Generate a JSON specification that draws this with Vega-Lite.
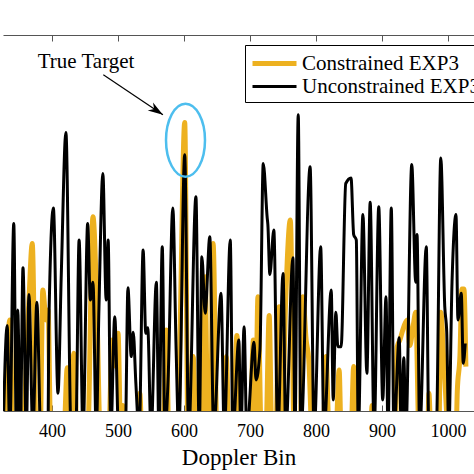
{
  "$schema": "https://vega.github.io/schema/vega-lite/v6.json",
  "width": 471,
  "height": 376,
  "autosize": {"type": "none"},
  "padding": {"left": 3, "top": 35, "right": 0, "bottom": 63},
  "background": "white",
  "config": {
    "view": {"stroke": null},
    "axis": {
      "grid": false,
      "domainColor": "#555555",
      "tickColor": "#555555",
      "domainWidth": 1,
      "tickWidth": 1,
      "labelFont": "Liberation Serif",
      "labelFontSize": 18,
      "labelColor": "#000000",
      "titleFont": "Liberation Serif",
      "titleFontSize": 23,
      "titleFontWeight": "normal",
      "titleColor": "#000000"
    }
  },
  "datasets": {
    "spectrum": [
      {"bin": 326, "v": -2, "series": "Unconstrained EXP3"},
      {"bin": 332, "v": 7.7, "series": "Unconstrained EXP3"},
      {"bin": 336, "v": -2, "series": "Unconstrained EXP3"},
      {"bin": 342, "v": 16.9, "series": "Unconstrained EXP3"},
      {"bin": 346, "v": -2, "series": "Unconstrained EXP3"},
      {"bin": 348, "v": 9.1, "series": "Unconstrained EXP3"},
      {"bin": 352, "v": -2, "series": "Unconstrained EXP3"},
      {"bin": 356, "v": 12.9, "series": "Unconstrained EXP3"},
      {"bin": 361, "v": -2, "series": "Unconstrained EXP3"},
      {"bin": 365, "v": 10.5, "series": "Unconstrained EXP3"},
      {"bin": 371, "v": -2, "series": "Unconstrained EXP3"},
      {"bin": 377, "v": 9.8, "series": "Unconstrained EXP3"},
      {"bin": 383, "v": -2, "series": "Unconstrained EXP3"},
      {"bin": 394, "v": -2, "series": "Unconstrained EXP3"},
      {"bin": 395, "v": 7.3, "series": "Unconstrained EXP3"},
      {"bin": 402, "v": 18.3, "series": "Unconstrained EXP3"},
      {"bin": 409, "v": 1.6, "series": "Unconstrained EXP3"},
      {"bin": 414, "v": 12.3, "series": "Unconstrained EXP3"},
      {"bin": 421, "v": 25.1, "series": "Unconstrained EXP3"},
      {"bin": 429, "v": -2, "series": "Unconstrained EXP3"},
      {"bin": 436, "v": -2, "series": "Unconstrained EXP3"},
      {"bin": 441, "v": 15.4, "series": "Unconstrained EXP3"},
      {"bin": 447, "v": -2, "series": "Unconstrained EXP3"},
      {"bin": 454, "v": 16.9, "series": "Unconstrained EXP3"},
      {"bin": 458, "v": 10.0, "series": "Unconstrained EXP3"},
      {"bin": 462, "v": 11.6, "series": "Unconstrained EXP3"},
      {"bin": 467, "v": -2, "series": "Unconstrained EXP3"},
      {"bin": 471, "v": 9.1, "series": "Unconstrained EXP3"},
      {"bin": 477, "v": 21.4, "series": "Unconstrained EXP3"},
      {"bin": 482, "v": 10.0, "series": "Unconstrained EXP3"},
      {"bin": 485, "v": 15.4, "series": "Unconstrained EXP3"},
      {"bin": 489, "v": -2, "series": "Unconstrained EXP3"},
      {"bin": 495, "v": 8.5, "series": "Unconstrained EXP3"},
      {"bin": 501, "v": -2, "series": "Unconstrained EXP3"},
      {"bin": 511, "v": -2, "series": "Unconstrained EXP3"},
      {"bin": 515, "v": 11.1, "series": "Unconstrained EXP3"},
      {"bin": 520, "v": 4.9, "series": "Unconstrained EXP3"},
      {"bin": 523, "v": 7.1, "series": "Unconstrained EXP3"},
      {"bin": 527, "v": 2.5, "series": "Unconstrained EXP3"},
      {"bin": 532, "v": -2, "series": "Unconstrained EXP3"},
      {"bin": 538, "v": 14.5, "series": "Unconstrained EXP3"},
      {"bin": 542, "v": 7.0, "series": "Unconstrained EXP3"},
      {"bin": 545, "v": 7.5, "series": "Unconstrained EXP3"},
      {"bin": 550, "v": -2, "series": "Unconstrained EXP3"},
      {"bin": 558, "v": 11.6, "series": "Unconstrained EXP3"},
      {"bin": 562, "v": -2, "series": "Unconstrained EXP3"},
      {"bin": 567, "v": 14.8, "series": "Unconstrained EXP3"},
      {"bin": 571, "v": -2, "series": "Unconstrained EXP3"},
      {"bin": 576, "v": 3.1, "series": "Unconstrained EXP3"},
      {"bin": 583, "v": 18.3, "series": "Unconstrained EXP3"},
      {"bin": 588, "v": 5.5, "series": "Unconstrained EXP3"},
      {"bin": 592, "v": -2, "series": "Unconstrained EXP3"},
      {"bin": 601, "v": 23.1, "series": "Unconstrained EXP3"},
      {"bin": 607, "v": -2, "series": "Unconstrained EXP3"},
      {"bin": 618, "v": 19.3, "series": "Unconstrained EXP3"},
      {"bin": 623, "v": -2, "series": "Unconstrained EXP3"},
      {"bin": 627, "v": 13.9, "series": "Unconstrained EXP3"},
      {"bin": 632, "v": 8.8, "series": "Unconstrained EXP3"},
      {"bin": 639, "v": 15.7, "series": "Unconstrained EXP3"},
      {"bin": 645, "v": -2, "series": "Unconstrained EXP3"},
      {"bin": 656, "v": 10.6, "series": "Unconstrained EXP3"},
      {"bin": 661, "v": -2, "series": "Unconstrained EXP3"},
      {"bin": 670, "v": 15.4, "series": "Unconstrained EXP3"},
      {"bin": 674, "v": -2, "series": "Unconstrained EXP3"},
      {"bin": 683, "v": 6.4, "series": "Unconstrained EXP3"},
      {"bin": 686, "v": -2, "series": "Unconstrained EXP3"},
      {"bin": 691, "v": 7.6, "series": "Unconstrained EXP3"},
      {"bin": 695, "v": -2, "series": "Unconstrained EXP3"},
      {"bin": 706, "v": 6.2, "series": "Unconstrained EXP3"},
      {"bin": 709, "v": 2.8, "series": "Unconstrained EXP3"},
      {"bin": 715, "v": 5.5, "series": "Unconstrained EXP3"},
      {"bin": 720, "v": 22.3, "series": "Unconstrained EXP3"},
      {"bin": 726, "v": 17.4, "series": "Unconstrained EXP3"},
      {"bin": 727, "v": 16.8, "series": "Unconstrained EXP3"},
      {"bin": 730, "v": 12.3, "series": "Unconstrained EXP3"},
      {"bin": 736, "v": 16.3, "series": "Unconstrained EXP3"},
      {"bin": 742, "v": -2, "series": "Unconstrained EXP3"},
      {"bin": 750, "v": 12.4, "series": "Unconstrained EXP3"},
      {"bin": 754, "v": -2, "series": "Unconstrained EXP3"},
      {"bin": 765, "v": 13.8, "series": "Unconstrained EXP3"},
      {"bin": 768, "v": -2, "series": "Unconstrained EXP3"},
      {"bin": 773, "v": 26.7, "series": "Unconstrained EXP3"},
      {"bin": 777, "v": -2, "series": "Unconstrained EXP3"},
      {"bin": 791, "v": 22.0, "series": "Unconstrained EXP3"},
      {"bin": 797, "v": -2, "series": "Unconstrained EXP3"},
      {"bin": 807, "v": 14.8, "series": "Unconstrained EXP3"},
      {"bin": 812, "v": -2, "series": "Unconstrained EXP3"},
      {"bin": 823, "v": 10.9, "series": "Unconstrained EXP3"},
      {"bin": 826, "v": 1.0, "series": "Unconstrained EXP3"},
      {"bin": 830, "v": 8.9, "series": "Unconstrained EXP3"},
      {"bin": 833, "v": 5.8, "series": "Unconstrained EXP3"},
      {"bin": 838, "v": 5.8, "series": "Unconstrained EXP3"},
      {"bin": 845, "v": 20.5, "series": "Unconstrained EXP3"},
      {"bin": 853, "v": 21.0, "series": "Unconstrained EXP3"},
      {"bin": 857, "v": 15.9, "series": "Unconstrained EXP3"},
      {"bin": 861, "v": 15.4, "series": "Unconstrained EXP3"},
      {"bin": 864, "v": -2, "series": "Unconstrained EXP3"},
      {"bin": 871, "v": 17.7, "series": "Unconstrained EXP3"},
      {"bin": 877, "v": 3.4, "series": "Unconstrained EXP3"},
      {"bin": 882, "v": 18.8, "series": "Unconstrained EXP3"},
      {"bin": 888, "v": -2, "series": "Unconstrained EXP3"},
      {"bin": 895, "v": 18.4, "series": "Unconstrained EXP3"},
      {"bin": 901, "v": 1.0, "series": "Unconstrained EXP3"},
      {"bin": 906, "v": 10.3, "series": "Unconstrained EXP3"},
      {"bin": 909, "v": -2, "series": "Unconstrained EXP3"},
      {"bin": 914, "v": 18.3, "series": "Unconstrained EXP3"},
      {"bin": 918, "v": -2, "series": "Unconstrained EXP3"},
      {"bin": 926, "v": 6.6, "series": "Unconstrained EXP3"},
      {"bin": 929, "v": -2, "series": "Unconstrained EXP3"},
      {"bin": 933, "v": 4.8, "series": "Unconstrained EXP3"},
      {"bin": 936, "v": -2, "series": "Unconstrained EXP3"},
      {"bin": 945, "v": 22.2, "series": "Unconstrained EXP3"},
      {"bin": 951, "v": 11.6, "series": "Unconstrained EXP3"},
      {"bin": 953, "v": 15.9, "series": "Unconstrained EXP3"},
      {"bin": 957, "v": -2, "series": "Unconstrained EXP3"},
      {"bin": 967, "v": 14.8, "series": "Unconstrained EXP3"},
      {"bin": 971, "v": -2, "series": "Unconstrained EXP3"},
      {"bin": 982, "v": -2, "series": "Unconstrained EXP3"},
      {"bin": 989, "v": 22.8, "series": "Unconstrained EXP3"},
      {"bin": 995, "v": 9.4, "series": "Unconstrained EXP3"},
      {"bin": 998, "v": 7.1, "series": "Unconstrained EXP3"},
      {"bin": 1001, "v": -2, "series": "Unconstrained EXP3"},
      {"bin": 1006, "v": 11.6, "series": "Unconstrained EXP3"},
      {"bin": 1012, "v": 17.7, "series": "Unconstrained EXP3"},
      {"bin": 1015, "v": 8.2, "series": "Unconstrained EXP3"},
      {"bin": 1020, "v": 10.6, "series": "Unconstrained EXP3"},
      {"bin": 1023, "v": 4.3, "series": "Unconstrained EXP3"},
      {"bin": 1026, "v": 6.1, "series": "Unconstrained EXP3"},

      {"bin": 329, "v": -2, "series": "Constrained EXP3"},
      {"bin": 336, "v": 8.2, "series": "Constrained EXP3"},
      {"bin": 341, "v": -2, "series": "Constrained EXP3"},
      {"bin": 355, "v": -2, "series": "Constrained EXP3"},
      {"bin": 365, "v": 10.0, "series": "Constrained EXP3"},
      {"bin": 370, "v": 15.1, "series": "Constrained EXP3"},
      {"bin": 376, "v": -2, "series": "Constrained EXP3"},
      {"bin": 382, "v": -2, "series": "Constrained EXP3"},
      {"bin": 386, "v": 10.9, "series": "Constrained EXP3"},
      {"bin": 391, "v": 8.2, "series": "Constrained EXP3"},
      {"bin": 394, "v": 9.1, "series": "Constrained EXP3"},
      {"bin": 398, "v": -2, "series": "Constrained EXP3"},
      {"bin": 418, "v": -2, "series": "Constrained EXP3"},
      {"bin": 423, "v": 3.9, "series": "Constrained EXP3"},
      {"bin": 427, "v": -2, "series": "Constrained EXP3"},
      {"bin": 433, "v": 5.2, "series": "Constrained EXP3"},
      {"bin": 438, "v": -2, "series": "Constrained EXP3"},
      {"bin": 454, "v": -2, "series": "Constrained EXP3"},
      {"bin": 462, "v": 17.5, "series": "Constrained EXP3"},
      {"bin": 468, "v": 9.1, "series": "Constrained EXP3"},
      {"bin": 473, "v": -2, "series": "Constrained EXP3"},
      {"bin": 486, "v": -2, "series": "Constrained EXP3"},
      {"bin": 491, "v": 6.4, "series": "Constrained EXP3"},
      {"bin": 497, "v": 4.0, "series": "Constrained EXP3"},
      {"bin": 500, "v": 7.0, "series": "Constrained EXP3"},
      {"bin": 504, "v": -2, "series": "Constrained EXP3"},
      {"bin": 507, "v": 0.5, "series": "Constrained EXP3"},
      {"bin": 510, "v": -2, "series": "Constrained EXP3"},
      {"bin": 530, "v": -2, "series": "Constrained EXP3"},
      {"bin": 533, "v": 1.6, "series": "Constrained EXP3"},
      {"bin": 536, "v": -2, "series": "Constrained EXP3"},
      {"bin": 568, "v": -2, "series": "Constrained EXP3"},
      {"bin": 573, "v": 7.3, "series": "Constrained EXP3"},
      {"bin": 577, "v": -2, "series": "Constrained EXP3"},
      {"bin": 590, "v": -2, "series": "Constrained EXP3"},
      {"bin": 594, "v": 7.3, "series": "Constrained EXP3"},
      {"bin": 601, "v": 26.0, "series": "Constrained EXP3"},
      {"bin": 606, "v": -2, "series": "Constrained EXP3"},
      {"bin": 614, "v": 4.9, "series": "Constrained EXP3"},
      {"bin": 618, "v": -2, "series": "Constrained EXP3"},
      {"bin": 627, "v": -2, "series": "Constrained EXP3"},
      {"bin": 632, "v": 12.1, "series": "Constrained EXP3"},
      {"bin": 636, "v": -2, "series": "Constrained EXP3"},
      {"bin": 640, "v": -2, "series": "Constrained EXP3"},
      {"bin": 644, "v": 15.1, "series": "Constrained EXP3"},
      {"bin": 650, "v": -2, "series": "Constrained EXP3"},
      {"bin": 660, "v": -2, "series": "Constrained EXP3"},
      {"bin": 664, "v": 4.9, "series": "Constrained EXP3"},
      {"bin": 668, "v": -2, "series": "Constrained EXP3"},
      {"bin": 675, "v": -2, "series": "Constrained EXP3"},
      {"bin": 680, "v": 6.8, "series": "Constrained EXP3"},
      {"bin": 686, "v": -2, "series": "Constrained EXP3"},
      {"bin": 700, "v": -2, "series": "Constrained EXP3"},
      {"bin": 705, "v": 6.4, "series": "Constrained EXP3"},
      {"bin": 708, "v": -2, "series": "Constrained EXP3"},
      {"bin": 712, "v": 10.3, "series": "Constrained EXP3"},
      {"bin": 717, "v": -2, "series": "Constrained EXP3"},
      {"bin": 724, "v": -2, "series": "Constrained EXP3"},
      {"bin": 729, "v": 8.6, "series": "Constrained EXP3"},
      {"bin": 733, "v": -2, "series": "Constrained EXP3"},
      {"bin": 739, "v": -2, "series": "Constrained EXP3"},
      {"bin": 744, "v": 9.4, "series": "Constrained EXP3"},
      {"bin": 748, "v": -2, "series": "Constrained EXP3"},
      {"bin": 754, "v": 10.0, "series": "Constrained EXP3"},
      {"bin": 761, "v": 17.2, "series": "Constrained EXP3"},
      {"bin": 767, "v": -2, "series": "Constrained EXP3"},
      {"bin": 776, "v": -2, "series": "Constrained EXP3"},
      {"bin": 780, "v": 10.3, "series": "Constrained EXP3"},
      {"bin": 785, "v": 6.4, "series": "Constrained EXP3"},
      {"bin": 789, "v": 4.6, "series": "Constrained EXP3"},
      {"bin": 794, "v": -2, "series": "Constrained EXP3"},
      {"bin": 811, "v": -2, "series": "Constrained EXP3"},
      {"bin": 815, "v": 4.9, "series": "Constrained EXP3"},
      {"bin": 820, "v": -2, "series": "Constrained EXP3"},
      {"bin": 830, "v": -2, "series": "Constrained EXP3"},
      {"bin": 835, "v": 3.7, "series": "Constrained EXP3"},
      {"bin": 838, "v": -2, "series": "Constrained EXP3"},
      {"bin": 853, "v": -2, "series": "Constrained EXP3"},
      {"bin": 857, "v": 4.0, "series": "Constrained EXP3"},
      {"bin": 862, "v": -2, "series": "Constrained EXP3"},
      {"bin": 882, "v": -2, "series": "Constrained EXP3"},
      {"bin": 885, "v": 0.5, "series": "Constrained EXP3"},
      {"bin": 888, "v": -2, "series": "Constrained EXP3"},
      {"bin": 920, "v": -2, "series": "Constrained EXP3"},
      {"bin": 923, "v": 5.8, "series": "Constrained EXP3"},
      {"bin": 927, "v": 6.4, "series": "Constrained EXP3"},
      {"bin": 933, "v": 7.6, "series": "Constrained EXP3"},
      {"bin": 938, "v": 8.2, "series": "Constrained EXP3"},
      {"bin": 942, "v": 5.9, "series": "Constrained EXP3"},
      {"bin": 947, "v": 7.6, "series": "Constrained EXP3"},
      {"bin": 951, "v": 8.9, "series": "Constrained EXP3"},
      {"bin": 956, "v": -2, "series": "Constrained EXP3"},
      {"bin": 969, "v": -2, "series": "Constrained EXP3"},
      {"bin": 971, "v": 1.6, "series": "Constrained EXP3"},
      {"bin": 974, "v": -2, "series": "Constrained EXP3"},
      {"bin": 986, "v": -2, "series": "Constrained EXP3"},
      {"bin": 989, "v": 8.9, "series": "Constrained EXP3"},
      {"bin": 994, "v": 4.0, "series": "Constrained EXP3"},
      {"bin": 1001, "v": -2, "series": "Constrained EXP3"},
      {"bin": 1012, "v": -2, "series": "Constrained EXP3"},
      {"bin": 1014, "v": 1.8, "series": "Constrained EXP3"},
      {"bin": 1018, "v": 5.0, "series": "Constrained EXP3"},
      {"bin": 1021, "v": 11.0, "series": "Constrained EXP3"},
      {"bin": 1024, "v": 11.0, "series": "Constrained EXP3"},
      {"bin": 1027, "v": 4.0, "series": "Constrained EXP3"}
    ],
    "notes": [
      {"kind": "arrow", "bin": 477.7, "level": 30.3, "bin2": 568.0, "level2": 26.7},
      {"kind": "target", "bin": 602.2, "level": 24.4},
      {"kind": "label", "bin": 451.5, "level": 30.9, "text": "True Target"}
    ]
  },
  "layer": [
    {
      "data": {"name": "spectrum"},
      "transform": [{"filter": "datum.series == 'Constrained EXP3'"}],
      "mark": {"type": "line", "interpolate": "monotone", "clip": true},
      "encoding": {
        "x": {
          "field": "bin", "type": "quantitative",
          "scale": {"domain": [325.7, 1039.3], "nice": false, "zero": false},
          "axis": {
            "orient": "bottom", "values": [400, 500, 600, 700, 800, 900, 1000], "format": "d",
            "tickSize": -6, "labelPadding": 17, "title": "Doppler Bin", "titlePadding": 6
          }
        },
        "y": {
          "field": "v", "type": "quantitative",
          "scale": {"domain": [0, 33.88], "nice": false, "zero": false},
          "axis": {"orient": "left", "values": [0, 10, 20, 30], "tickSize": -6, "labels": false, "title": null}
        },
        "color": {
          "field": "series", "type": "nominal",
          "scale": {"domain": ["Constrained EXP3", "Unconstrained EXP3"], "range": ["#EDB120", "#000000"]},
          "legend": {
            "title": null, "orient": "none", "legendX": 242, "legendY": 10,
            "symbolType": "M -1 0 L 3 0", "symbolSize": 484, "symbolStrokeWidth": 4,
            "labelFont": "Liberation Serif", "labelFontSize": 21, "labelColor": "#000000",
            "labelOffset": 25, "rowPadding": 0, "padding": 5,
            "strokeColor": "#000000", "fillColor": "#ffffff", "labelLimit": 400
          }
        },
        "strokeWidth": {
          "field": "series", "type": "nominal",
          "scale": {"domain": ["Constrained EXP3", "Unconstrained EXP3"], "range": [5, 3]},
          "legend": null
        }
      }
    },
    {
      "data": {"name": "spectrum"},
      "transform": [{"filter": "datum.series == 'Unconstrained EXP3'"}],
      "mark": {"type": "line", "interpolate": "monotone", "clip": true},
      "encoding": {
        "x": {
          "field": "bin", "type": "quantitative",
          "scale": {"domain": [325.7, 1039.3], "nice": false, "zero": false},
          "axis": {
            "orient": "top", "values": [400, 500, 600, 700, 800, 900, 1000],
            "tickSize": -6, "labels": false, "title": null
          }
        },
        "y": {
          "field": "v", "type": "quantitative",
          "scale": {"domain": [0, 33.88], "nice": false, "zero": false},
          "axis": null
        },
        "color": {"field": "series", "type": "nominal"},
        "strokeWidth": {"field": "series", "type": "nominal", "legend": null}
      }
    },
    {
      "data": {"name": "notes"},
      "transform": [{"filter": "datum.kind == 'arrow'"}],
      "mark": {"type": "rule", "color": "#000000", "strokeWidth": 1.2},
      "encoding": {
        "x": {"field": "bin", "type": "quantitative", "scale": {"domain": [325.7, 1039.3]}, "axis": null},
        "y": {"field": "level", "type": "quantitative", "scale": {"domain": [0, 33.88]}, "axis": null},
        "x2": {"field": "bin2"},
        "y2": {"field": "level2"}
      }
    },
    {
      "data": {"name": "notes"},
      "transform": [{"filter": "datum.kind == 'arrow'"}],
      "mark": {
        "type": "point", "filled": true, "color": "#000000", "opacity": 1,
        "shape": "M 0 0 L -2 -0.65 L -1.4 0 L -2 0.65 Z", "size": 225, "angle": 33
      },
      "encoding": {
        "x": {"field": "bin2", "type": "quantitative", "scale": {"domain": [325.7, 1039.3]}, "axis": null},
        "y": {"field": "level2", "type": "quantitative", "scale": {"domain": [0, 33.88]}, "axis": null}
      }
    },
    {
      "data": {"name": "notes"},
      "transform": [{"filter": "datum.kind == 'target'"}],
      "mark": {
        "type": "point", "filled": false, "color": "#4DBEEE", "strokeWidth": 2.5, "opacity": 1,
        "shape": "M 0 -1 A 0.534 1 0 1 1 0 1 A 0.534 1 0 1 1 0 -1 Z", "size": 5329
      },
      "encoding": {
        "x": {"field": "bin", "type": "quantitative", "scale": {"domain": [325.7, 1039.3]}, "axis": null},
        "y": {"field": "level", "type": "quantitative", "scale": {"domain": [0, 33.88]}, "axis": null}
      }
    },
    {
      "data": {"name": "notes"},
      "transform": [{"filter": "datum.kind == 'label'"}],
      "mark": {
        "type": "text", "font": "Liberation Serif", "fontSize": 21, "color": "#000000",
        "align": "center", "baseline": "alphabetic"
      },
      "encoding": {
        "x": {"field": "bin", "type": "quantitative", "scale": {"domain": [325.7, 1039.3]}, "axis": null},
        "y": {"field": "level", "type": "quantitative", "scale": {"domain": [0, 33.88]}, "axis": null},
        "text": {"field": "text"}
      }
    }
  ]
}
